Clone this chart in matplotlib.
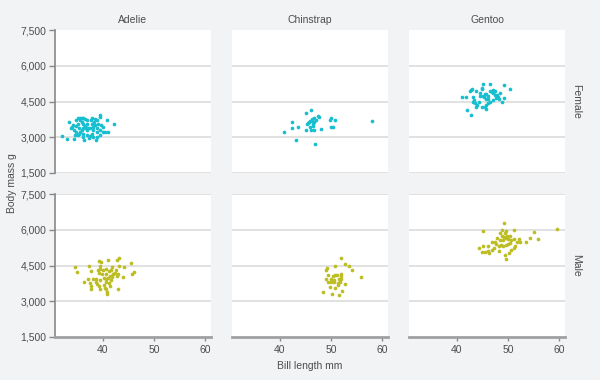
import matplotlib
matplotlib.use("Agg")
import matplotlib.pyplot as plt

plt.rcParams['font.family'] = ['Liberation Sans', 'DejaVu Sans']

species = ['Adelie', 'Chinstrap', 'Gentoo']
sexes = ['Female', 'Male']
colors = {'Female': '#17becf', 'Male': '#bcbd22'}
y_ticks = [1500, 3000, 4500, 6000, 7500]
x_ticks = [40, 50, 60]

# bill length (mm) / body mass (g)
adelie_f_bill = [32.0, 33.0, 34.4, 36.3, 38.6, 33.4, 33.9, 34.8, 35.2, 35.5, 35.8, 36.1,
                 36.5, 35.5, 35.8, 36.1, 34.8, 35.4, 34.3, 34.7, 35.6, 36.1, 35.2, 36.8,
                 37.5, 37.8, 36.8, 37.1, 37.5, 38.1, 37.9, 38.4, 38.8, 39.4, 39.5, 39.1,
                 39.7, 40.1, 38.8, 39.4, 40.1, 40.4, 41.0, 40.8, 42.2, 38.1, 36.5, 36.9,
                 36.0, 37.3, 36.6, 37.6, 38.2, 38.9, 39.4, 35.8, 35.2, 34.2, 33.7, 37.8,
                 38.4, 36.8, 36.1, 35.4, 34.6, 38.0, 38.8]
adelie_f_mass = [3050, 2925, 2925, 2875, 2900, 3625, 3450, 3725, 3800, 3800, 3800, 3800,
                 3750, 3725, 3650, 3575, 3475, 3375, 3325, 3225, 3200, 3125, 3100, 3100,
                 3050, 3150, 3300, 3400, 3375, 3450, 3800, 3750, 3725, 3850, 3925, 3575,
                 3500, 3450, 3375, 3300, 3225, 3225, 3200, 3725, 3575, 3300, 3475, 3550,
                 3025, 2950, 3400, 3725, 3650, 3025, 3100, 3300, 3575, 3500, 3375, 3575,
                 3500, 3725, 3375, 3150, 3100, 3000, 3225]

chinstrap_f_bill = [40.8, 43.1, 46.9, 42.4, 43.5, 42.3, 45.2, 46.0, 45.2, 46.1, 46.7, 48.0,
                    46.4, 46.5, 45.4, 45.6, 45.9, 46.2, 46.6, 47.0, 47.4, 47.6, 49.8, 50.1,
                    50.9, 50.1, 50.4, 58.0, 45.9, 46.3, 45.7, 46.7]
chinstrap_f_mass = [3200, 2900, 2700, 3375, 3450, 3625, 4000, 4150, 3300, 3300, 3300, 3350,
                    3475, 3575, 3550, 3600, 3675, 3675, 3825, 3725, 3900, 3850, 3725, 3800,
                    3725, 3450, 3450, 3700, 3450, 3750, 3650, 3650]

gentoo_f_bill = [40.9, 41.8, 42.7, 42.0, 42.7, 42.5, 42.9, 43.7, 44.5, 45.0, 45.2, 45.0,
                 46.5, 45.5, 45.2, 45.8, 46.1, 46.5, 46.8, 47.1, 47.5, 47.8, 48.4, 49.2,
                 50.5, 49.2, 48.8, 48.3, 47.6, 47.0, 46.5, 46.1, 45.7, 45.5, 45.8, 45.0,
                 44.4, 43.5, 44.0, 43.7, 43.2, 43.1, 43.3, 45.8, 46.1, 47.1, 47.5, 48.1,
                 44.5, 45.4]
gentoo_f_mass = [4700, 4700, 3950, 4150, 4975, 4950, 5025, 4950, 4875, 5075, 5250, 5025,
                 5250, 4800, 4750, 4800, 4725, 4925, 4900, 4975, 4950, 4775, 4875, 5175,
                 5025, 4650, 4500, 4625, 4650, 4550, 4500, 4425, 4350, 4250, 4200, 4275,
                 4500, 4450, 4350, 4275, 4500, 4700, 4550, 4600, 4600, 4850, 4775, 4700,
                 4725, 4675]

adelie_m_bill = [34.5, 35.0, 37.3, 37.6, 37.1, 36.3, 37.5, 37.6, 37.6, 38.1, 38.6, 38.6,
                 38.9, 39.2, 39.5, 39.1, 39.2, 39.5, 39.2, 39.7, 39.5, 39.5, 40.1, 40.6,
                 41.0, 40.6, 40.7, 40.4, 40.6, 40.8, 40.8, 41.4, 41.2, 41.0, 41.4, 41.5,
                 41.7, 41.9, 42.0, 41.5, 41.8, 42.4, 42.5, 42.7, 43.0, 43.2, 42.8, 43.1,
                 43.0, 44.0, 44.1, 45.6, 45.8, 46.1, 40.2, 39.9, 40.7, 41.1, 40.2]
adelie_m_mass = [4425, 4225, 4500, 4250, 3950, 3800, 3775, 3625, 3525, 3950, 3950, 3800,
                 3725, 3625, 3525, 4300, 4200, 4350, 4700, 4650, 4475, 3900, 4325, 4350,
                 4750, 3950, 3800, 3550, 3500, 3400, 3325, 3625, 3775, 3975, 4050, 3900,
                 4000, 4125, 4150, 4325, 4425, 4200, 4300, 4075, 4125, 4475, 4750, 4800,
                 3525, 4025, 4425, 4625, 4150, 4225, 3975, 4150, 4150, 4250, 3700]

chinstrap_m_bill = [52.0, 52.8, 53.5, 54.2, 55.9, 50.8, 49.2, 49.1, 49.4, 49.1, 50.0, 50.5,
                    50.8, 51.1, 51.9, 51.9, 51.5, 51.9, 49.5, 50.0, 50.6, 51.4, 51.7, 51.3,
                    52.7, 49.8, 50.9, 52.2, 48.5, 50.3, 51.5, 50.7]
chinstrap_m_mass = [4800, 4550, 4500, 4325, 4000, 4475, 4400, 4300, 4100, 3950, 3950, 4050,
                    4100, 4100, 4150, 4050, 3950, 3950, 3800, 3800, 3800, 3775, 3800, 3675,
                    3725, 3600, 3550, 3450, 3400, 3300, 3250, 3900]

gentoo_m_bill = [49.2, 59.6, 45.2, 48.8, 51.2, 55.2, 48.4, 49.7, 49.4, 49.9, 50.4, 49.3,
                 49.6, 47.8, 46.8, 48.4, 49.1, 50.1, 50.6, 51.2, 52.2, 52.4, 53.5, 54.3,
                 55.9, 51.7, 50.4, 49.7, 48.6, 48.3, 47.6, 47.3, 46.8, 46.1, 45.2, 44.3,
                 45.0, 45.5, 46.0, 46.3, 48.2, 51.1, 50.7, 50.2, 49.4, 49.6, 49.1, 50.1,
                 51.4, 47.5, 48.8]
gentoo_m_mass = [6300, 6050, 5950, 6000, 6000, 5900, 5850, 5950, 5850, 5750, 5750, 5700,
                 5650, 5650, 5500, 5550, 5550, 5600, 5550, 5600, 5600, 5475, 5500, 5650,
                 5600, 5475, 5450, 5375, 5375, 5300, 5400, 5225, 5150, 5325, 5325, 5250,
                 5050, 5050, 5125, 5025, 5125, 5225, 5150, 5025, 4925, 4775, 5325, 5400,
                 5300, 5500, 5750]

data = {
    ('Female', 'Adelie'): (adelie_f_bill, adelie_f_mass),
    ('Female', 'Chinstrap'): (chinstrap_f_bill, chinstrap_f_mass),
    ('Female', 'Gentoo'): (gentoo_f_bill, gentoo_f_mass),
    ('Male', 'Adelie'): (adelie_m_bill, adelie_m_mass),
    ('Male', 'Chinstrap'): (chinstrap_m_bill, chinstrap_m_mass),
    ('Male', 'Gentoo'): (gentoo_m_bill, gentoo_m_mass),
}

bg = '#f2f3f5'
text_col = '#4d4d4d'
grid_col = '#dcdcdc'

fig = plt.figure(figsize=(6, 3.8), dpi=100, facecolor=bg)

lefts = [55 / 600, 232 / 600, 409 / 600]
bottoms = [1 - 173 / 380, 1 - 337 / 380]
w, h = 156 / 600, 143 / 380

for r, sex in enumerate(sexes):
    for c, sp in enumerate(species):
        ax = fig.add_axes([lefts[c], bottoms[r], w, h])
        ax.set_facecolor('white')
        bill, mass = data[(sex, sp)]
        for t in y_ticks:
            if r == 0 and t == 7500:
                continue
            if r == 1 and t == 1500:
                continue
            ax.axhline(t, color=grid_col, lw=1.2, zorder=0)
        ax.scatter(bill, mass, s=7, color=colors[sex], linewidths=0, zorder=3)
        ax.set_xlim(30.6, 61.2)
        ax.set_ylim(1500, 7500)
        for s in ['top', 'right']:
            ax.spines[s].set_visible(False)
        ax.spines['left'].set_visible(c == 0)
        ax.spines['left'].set_color('#888888')
        ax.spines['left'].set_linewidth(1.2)
        ax.spines['bottom'].set_visible(r == 1)
        ax.spines['bottom'].set_color('#a0a0a0')
        ax.spines['bottom'].set_linewidth(2)
        ax.set_yticks(y_ticks)
        ax.set_xticks(x_ticks)
        if c == 0:
            ax.set_yticklabels([f'{t:,}' for t in y_ticks])
            ax.tick_params(axis='y', length=4, width=1, color='#888888',
                           labelsize=7.5, labelcolor=text_col, pad=2)
        else:
            ax.tick_params(axis='y', left=False, labelleft=False)
        if r == 1:
            ax.tick_params(axis='x', length=3, width=1, color='#888888',
                           labelsize=7.5, labelcolor=text_col, pad=3)
        else:
            ax.tick_params(axis='x', bottom=False, labelbottom=False)
        if r == 0:
            ax.set_title(sp, fontsize=7.5, color=text_col, pad=5)
        if c == 2:
            ax.text(1.07, 0.5, sex, transform=ax.transAxes, rotation=270,
                    ha='center', va='center', fontsize=7.5, color=text_col)

fig.text(12 / 600, 1 - 183 / 380, 'Body mass g', rotation=90, ha='center',
         va='center', fontsize=7.5, color=text_col)
fig.text(310 / 600, 1 - 366 / 380, 'Bill length mm', ha='center', va='center',
         fontsize=7.5, color=text_col)

fig.savefig('out.png', dpi=100, facecolor=bg)
